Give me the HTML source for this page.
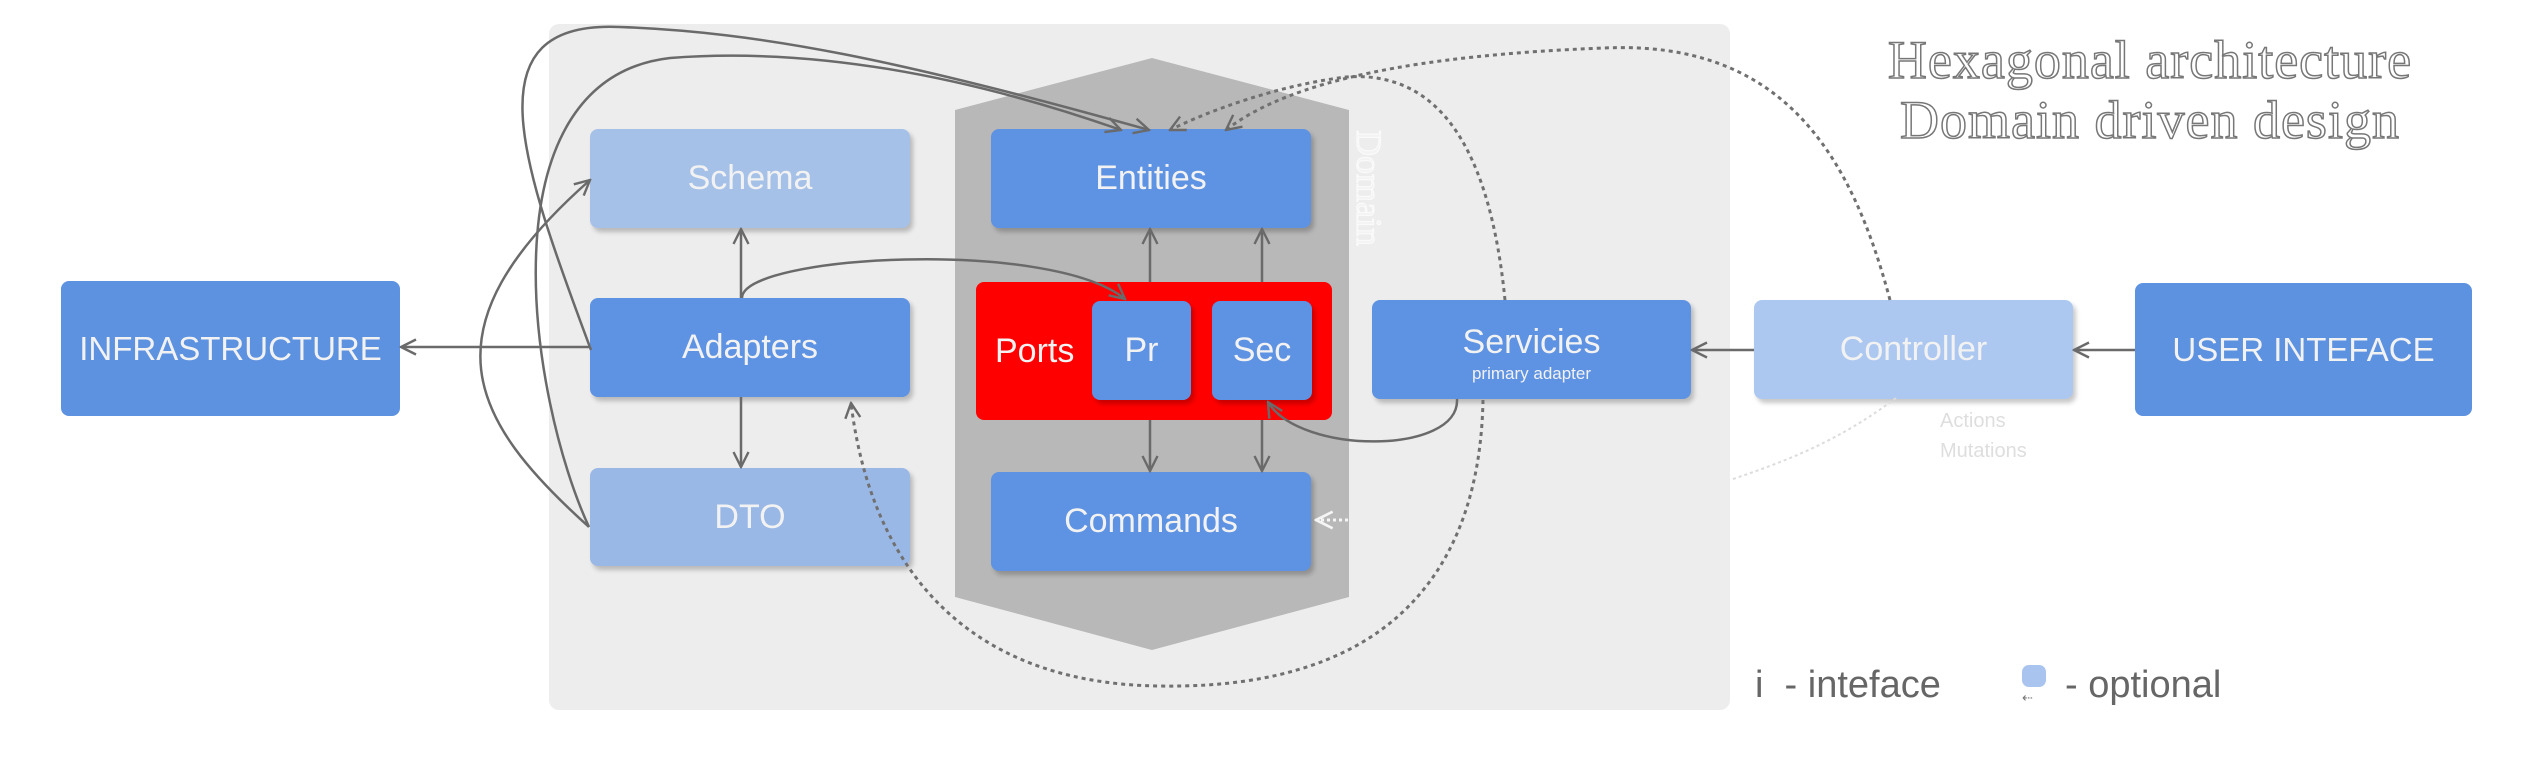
<!DOCTYPE html>
<html><head><meta charset="utf-8"><style>
html,body{margin:0;padding:0;background:#fff;}
body{width:2530px;height:757px;position:relative;overflow:hidden;font-family:"Liberation Sans",sans-serif;}
.b{position:absolute;display:flex;align-items:center;justify-content:center;color:#f2f2f2;font-size:34px;border-radius:8px;box-shadow:3px 4px 5px rgba(0,0,0,0.22);}
</style></head><body>
<div style="position:absolute;left:549px;top:24px;width:1181px;height:686px;background:#ededed;border-radius:10px"></div>
<svg style="position:absolute;left:0;top:0" width="2530" height="757">
<polygon points="1152,58 1349,110 1349,597 1152,650 955,597 955,110" fill="#b8b8b8" stroke-linejoin="round"/>
</svg>
<div class="b" style="left:61px;top:281px;width:339px;height:135px;background:#5d92e1;box-shadow:none;font-size:33px">INFRASTRUCTURE</div>
<div class="b" style="left:590px;top:129px;width:320px;height:99px;background:#a6c1e8">Schema</div>
<div class="b" style="left:590px;top:298px;width:320px;height:99px;background:#5e92e2">Adapters</div>
<div class="b" style="left:590px;top:468px;width:320px;height:98px;background:#9ab8e6">DTO</div>
<div class="b" style="left:991px;top:129px;width:320px;height:99px;background:#5e92e2">Entities</div>
<div style="position:absolute;left:976px;top:282px;width:356px;height:138px;background:#ff0000;border-radius:8px"></div>
<div style="position:absolute;left:995px;top:282px;height:138px;display:flex;align-items:center;color:#f2f2f2;font-size:34px">Ports</div>
<div class="b" style="left:1092px;top:301px;width:99px;height:99px;background:#5e92e2">Pr</div>
<div class="b" style="left:1212px;top:301px;width:100px;height:99px;background:#5e92e2">Sec</div>
<div class="b" style="left:991px;top:472px;width:320px;height:99px;background:#5e92e2">Commands</div>
<div class="b" style="left:1372px;top:300px;width:319px;height:99px;background:#5e92e2;flex-direction:column"><div style="margin-top:8px">Servicies</div><div style="font-size:17px;margin-top:2px">primary adapter</div></div>
<div class="b" style="left:1754px;top:300px;width:319px;height:99px;background:#adc8f0">Controller</div>
<div class="b" style="left:2135px;top:283px;width:337px;height:133px;background:#5d92e1;box-shadow:none;font-size:33px">USER INTEFACE</div>
<div style="position:absolute;left:1340px;top:130px;width:60px;height:140px;"><div style="transform:rotate(90deg);transform-origin:0 0;position:absolute;left:50px;top:0;font-family:'Liberation Serif',serif;font-size:36px;color:rgba(255,255,255,0.35);-webkit-text-stroke:1.2px #fafafa;white-space:nowrap">Domain</div></div>
<div style="position:absolute;left:1940px;top:406px;color:#dedede;font-size:20px;line-height:30px">Actions<br>Mutations</div>
<div style="position:absolute;left:1800px;top:30px;width:700px;text-align:center;font-family:'Liberation Serif',serif;font-size:54px;line-height:60px;color:#fff;-webkit-text-stroke:1.5px #777;letter-spacing:1px">Hexagonal architecture<br>Domain driven design</div>
<div style="position:absolute;left:1755px;top:664px;font-size:38px;color:#666">i&nbsp; - inteface</div>
<div style="position:absolute;left:2022px;top:665px;width:24px;height:22px;border-radius:7px;background:#a9c4ee"></div>
<div style="position:absolute;left:2022px;top:690px;font-size:13px;color:#777">⇠</div>
<div style="position:absolute;left:2065px;top:664px;font-size:38px;color:#666">- optional</div>
<svg style="position:absolute;left:0;top:0" width="2530" height="757">
<defs>
<marker id="a" viewBox="0 0 12 12" refX="11" refY="6" markerWidth="18" markerHeight="18" markerUnits="userSpaceOnUse" orient="auto"><path d="M1,1 L11,6 L1,11" fill="none" stroke="#6a6a6a" stroke-width="1.6"/></marker>
<marker id="w" viewBox="0 0 12 12" refX="11" refY="6" markerWidth="20" markerHeight="20" markerUnits="userSpaceOnUse" orient="auto"><path d="M1,1 L11,6 L1,11" fill="none" stroke="#f5f5f5" stroke-width="1.6"/></marker>
</defs>
<g fill="none" stroke="#6a6a6a" stroke-width="2.5" marker-end="url(#a)">
<path d="M590,347 L401,347"/>
<path d="M741,298 L741,229"/>
<path d="M741,397 L741,467"/>
<path d="M742,298 C742,255 1050,238 1125,299"/>
<path d="M1150,282 L1150,229"/>
<path d="M1262,282 L1262,229"/>
<path d="M1150,420 L1150,471"/>
<path d="M1262,420 L1262,471"/>
<path d="M1457,399 C1460,455 1300,455 1268,402"/>
<path d="M1754,350 L1692,350"/>
<path d="M2135,350 L2074,350"/>
<path d="M591,350 C520,160 470,20 620,27 C760,32 900,60 1149,130"/>
<path d="M589,527 C530,400 480,80 670,58 C800,48 950,70 1121,130"/>
<path d="M589,527 C470,420 420,330 590,180"/>
</g>
<g fill="none" stroke="#707070" stroke-width="3" stroke-dasharray="4 4" marker-end="url(#a)">
<path d="M1505,300 C1490,150 1440,70 1346,77 C1280,85 1210,110 1170,130"/>
<path d="M1890,300 C1850,150 1780,40 1604,48 C1420,55 1290,80 1226,130"/>
<path d="M1483,400 C1480,560 1400,690 1160,686 C960,684 870,560 851,403"/>
</g>
<path d="M1896,398 C1840,440 1790,460 1730,480" fill="none" stroke="#dcdcdc" stroke-width="2" stroke-dasharray="3 3"/>
<path d="M1348,520 L1316,520" fill="none" stroke="#f5f5f5" stroke-width="3" stroke-dasharray="3 3" marker-end="url(#w)"/>
</svg>
</body></html>
